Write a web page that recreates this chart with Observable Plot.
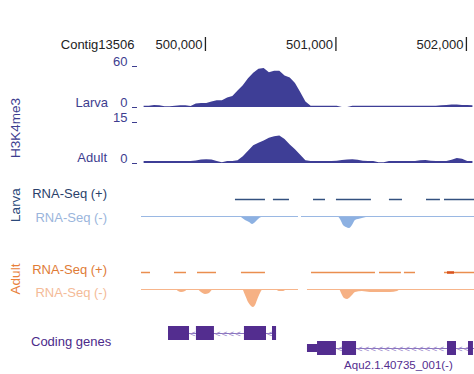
<!DOCTYPE html>
<html><head><meta charset="utf-8">
<script src="https://cdn.jsdelivr.net/npm/d3@7"></script>
<script src="https://cdn.jsdelivr.net/npm/@observablehq/plot@0.6"></script>
<style>
body{margin:0;background:#fff;}
#chart{position:relative;width:474px;height:374px;font-family:"Liberation Sans",Arial,Helvetica,sans-serif;overflow:hidden;background:#fff;}
.lab{position:absolute;font-size:13px;white-space:nowrap;line-height:1;}
</style></head><body><div id="chart"></div><script>
// ---------------- data ----------------
const X_DOMAIN = [499510, 502062];
const contigName = "Contig13506";
const axisTicks = [500000, 501000, 502000];

// H3K4me3 coverage, 40 bp bins starting at binStart
const binStart = 499510, binWidth = 40;
const larvaH3K4me3 = [2,2,3,2.5,1,1,2,2.5,2.5,1.5,
  5,6,6,8,10,10,14,16,24,32,42,50,56,57,51,53,53,46,43,35,22,8,2,
  2,2,2,2,2,null,null,
  2,2,2,2,2,2,2,2,2,2,2,2,2,2,2,2,2,
  2.5,3,3.5,3.5,3,3,2.5];
const adultH3K4me3 = [0.7,0.7,0.7,0.7,0.7,0.7,0.7,0.7,0.7,0.7,
  0.9,1.3,1.4,1.3,0.7,0.3,0.7,0.7,1,2.5,4.5,6.5,7.4,8.2,9.2,9.8,10.1,8.8,6.8,5,3,1,0.7,
  0.7,0.7,0.7,0.7,
  0.8,1.1,1.3,1.4,1.2,0.8,0.7,0.7,0.3,0.3,
  0.7,0.7,0.7,0.7,0.7,0.7,
  1,1.1,0.8,0.7,0.7,0.7,1.2,1.8,1.6,0.7,0.7];
const larvaH3Ticks = [0, 60];
const adultH3Ticks = [0, 15];

// RNA-Seq (+) covered segments
const larvaPlusStart = [500230, 500521, 500828, 501004, 501410, 501694, 501832];
const larvaPlusEnd   = [500460, 500644, 500920, 501272, 501510, 501801, 502062];
const adultPlusStart = [499510, 499763, 499939, 500276, 500813, 501334, 501525, 501832];
const adultPlusEnd   = [499579, 499855, 500085, 500460, 501303, 501502, 501610, 502062];
const adultPlusPeakStart = [501855];
const adultPlusPeakEnd   = [501909];

// RNA-Seq (-) coverage (position, depth)
const larvaMinusPos = [499510,499962,499985,500008,500246,500276,500307,500338,500361,500384,500407,500430,500453,
  501012,501035,501058,501081,501104,501127,501150,501173,501203,501234,501257,501341,501364,501418,501441,502062];
const larvaMinusDepth = [0,0,1,0,0,1,4,6,8,6,3,1,0,
  0,3,9,11,12,9,4,3,2,1,0,0,1,1,0,0];
const adultMinusPos = [499510,499771,499794,499817,499847,499870,499939,499970,500000,500031,500062,
  500284,500307,500330,500353,500368,500384,500399,500422,500445,
  500537,500567,500598,500629,
  501027,501043,501066,501089,501112,501127,501150,501203,501265,501341,501418,501472,501502,502062];
const adultMinusDepth = [0,0,2,3,2,0,0,3,5,4,0,
  0,6,13,17,18,16,11,4,0,
  0,2,2,0,
  0,4,9,10,8,6,3,2,3,3,3,2,0,0];
const larvaMinusBaseStart = [499510, 500736];
const larvaMinusBaseEnd   = [500713, 502062];
const adultMinusBaseStart = [499510, 500782];
const adultMinusBaseEnd   = [500713, 502062];

// Coding genes
const geneRows   = ["g1", "g2"];
const geneStart  = [499717, 500782];
const geneEnd    = [500545, 502062];
const exonRow    = ["g1","g1","g1","g1","g2","g2","g2","g2","g2"];
const exonStart  = [499717,499931,500299,500514,500782,500859,501050,501855,502016];
const exonEnd    = [499878,500069,500468,500545,500859,501004,501158,501924,502054];
const exonKind   = ["cds","cds","cds","cds","utr","cds","cds","cds","cds"];
const geneLabel  = {name: "Aqu2.1.40735_001(-)", x: 501479, row: "g2"};

// ---------------- colors ----------------
const FONT = '"Liberation Sans", Arial, Helvetica, sans-serif';
const H3 = "#3e3e96", H3TXT = "#3d3d8f";
const LARVA_DARK = "#2a3f6b", LARVA_LINE = "#33507f";
const LARVA_LIGHT_TXT = "#9ab5dc", LARVA_FILL = "#8db1e2", LARVA_BASE = "#9ab8e3";
const ADULT_ORANGE = "#e8803a", ADULT_LINE = "#ea8e4f", ADULT_PEAK = "#d9531e";
const ADULT_LIGHT_TXT = "#f4bb98", ADULT_FILL = "#f6b184", ADULT_BASE = "#f7b58b";
const GENE = "#532d8f", INTRON = "#8a74bd", CHEV = "#9d8bcc";

// ---------------- helpers ----------------
const chart = document.getElementById("chart");
const W = 474, ML = 141;
function place(svg, top) {
  svg.style.position = "absolute"; svg.style.top = top + "px"; svg.style.left = "0px";
  chart.append(svg);
}
function base(o) {
  return Plot.plot({width: W, marginLeft: ML, marginRight: 0,
    x: {domain: X_DOMAIN, axis: null},
    style: {background: "transparent", overflow: "visible", fontFamily: FONT}, ...o});
}
function lab(text, {right, left, cy, color, size = 13, rotate = false}) {
  const d = document.createElement("div");
  d.className = "lab"; d.textContent = text; d.style.color = color; d.style.fontSize = size + "px";
  d.style.top = cy + "px";
  if (rotate) { d.style.left = left + "px"; d.style.transform = "translate(-50%,-50%) rotate(-90deg)"; }
  else if (right != null) { d.style.right = (W - right) + "px"; d.style.transform = "translateY(-50%)"; }
  else { d.style.left = left + "px"; d.style.transform = "translateY(-50%)"; }
  chart.append(d);
}
const bins = arr => arr.map((v, i) => ({x: binStart + (i + 0.5) * binWidth, v}));
const segs = (s, e) => s.map((v, i) => ({x1: v, x2: e[i]}));
const pts = (p, d) => p.map((v, i) => ({x: v, depth: d[i]}));

// ---------------- header axis ----------------
place(base({height: 56, marginTop: 37, marginBottom: 5, y: {axis: null},
  marks: [
    Plot.ruleX(axisTicks, {x: d => d, stroke: "#222", strokeWidth: 1.3}),
    Plot.text(axisTicks, {x: d => d, text: d => d3.format(",")(d), textAnchor: "end", dx: -3, frameAnchor: "middle", fontSize: 13, fill: "#222"}),
    Plot.text([contigName], {text: d => d, frameAnchor: "left", textAnchor: "end", dx: -7, fontSize: 13, fill: "#222"})
  ]}), 0);

// ---------------- H3K4me3 tracks ----------------
function h3Track(values, ticks, top) {
  place(base({height: 56, marginTop: 10, marginBottom: 5, y: {domain: [ticks[0], ticks[1]], axis: null},
    marks: [
      Plot.areaY(bins(values), {x: "x", y: "v", fill: H3, curve: "linear"}),
      Plot.axisY(ticks, {label: null, tickSize: 5, dx: -4, tickFormat: () => "", stroke: H3TXT}),
      Plot.axisY(ticks, {label: null, tickSize: 0, dx: -4, tickPadding: 10, dy: -5, fill: H3TXT, fontSize: 13})
    ]}), top);
}
h3Track(larvaH3K4me3, larvaH3Ticks, 56);
h3Track(adultH3K4me3, adultH3Ticks, 112);

// ---------------- RNA-Seq tracks ----------------
function plusTrack(s, e, color, top, peaks) {
  const marks = [Plot.ruleY(segs(s, e), {y: () => 0, x1: "x1", x2: "x2", stroke: color, strokeWidth: 1.5})];
  if (peaks) marks.push(Plot.ruleY(segs(peaks[0], peaks[1]), {y: () => 0, x1: "x1", x2: "x2", stroke: ADULT_PEAK, strokeWidth: 2.5}));
  place(base({height: 12, marginTop: 0, marginBottom: 0, y: {domain: [-1, 1], axis: null}, marks}), top);
}
function minusTrack(p, d, bs, be, maxDepth, fill, baseColor, top) {
  place(base({height: maxDepth + 12, marginTop: 6, marginBottom: 6, y: {domain: [-maxDepth, 0], axis: null},
    marks: [
      Plot.areaY(pts(p, d), {x: "x", y1: () => 0, y2: r => -r.depth, fill, curve: "monotone-x"}),
      Plot.ruleY(segs(bs, be), {y: () => 0, x1: "x1", x2: "x2", stroke: baseColor, strokeWidth: 1.2})
    ]}), top);
}
plusTrack(larvaPlusStart, larvaPlusEnd, LARVA_LINE, 193);
minusTrack(larvaMinusPos, larvaMinusDepth, larvaMinusBaseStart, larvaMinusBaseEnd, 12, LARVA_FILL, LARVA_BASE, 210);
plusTrack(adultPlusStart, adultPlusEnd, ADULT_LINE, 266, [adultPlusPeakStart, adultPlusPeakEnd]);
minusTrack(adultMinusPos, adultMinusDepth, adultMinusBaseStart, adultMinusBaseEnd, 18, ADULT_FILL, ADULT_BASE, 283);

// ---------------- genes ----------------
const genes = geneRows.map((r, i) => ({row: r, x1: geneStart[i], x2: geneEnd[i]}));
const exons = exonRow.map((r, i) => ({row: r, x1: exonStart[i], x2: exonEnd[i], kind: exonKind[i]}));
const chevrons = [];
for (const g of geneRows) {
  const ex = exons.filter(e => e.row === g).sort((a, b) => a.x1 - b.x1);
  for (let i = 0; i + 1 < ex.length; i++) {
    for (const x of d3.range(ex[i].x2 + 25, ex[i + 1].x1 - 10, 52)) chevrons.push({row: g, x});
  }
}
place(base({height: 56, marginTop: 6, marginBottom: 17,
  y: {type: "band", domain: geneRows, padding: 0.08, axis: null},
  marks: [
    Plot.ruleY(genes, {y: "row", x1: "x1", x2: "x2", stroke: INTRON, strokeWidth: 1}),
    Plot.text(chevrons, {x: "x", y: "row", text: () => "<", fontSize: 9.5, fill: CHEV}),
    Plot.rect(exons.filter(e => e.kind === "cds"), {x1: "x1", x2: "x2", y: "row", fill: GENE}),
    Plot.rect(exons.filter(e => e.kind === "utr"), {x1: "x1", x2: "x2", y: "row", fill: GENE, insetTop: 3, insetBottom: 3}),
    Plot.text([geneLabel], {x: "x", y: "row", text: "name", dy: 17, fontSize: 11.5, fill: GENE})
  ]}), 318);

// ---------------- labels ----------------
lab("H3K4me3", {left: 16, cy: 128, color: H3TXT, size: 13.5, rotate: true});
lab("Larva", {right: 108, cy: 102, color: H3TXT});
lab("Adult", {right: 107, cy: 157, color: H3TXT});
lab("Larva", {left: 16, cy: 205, color: "#2b4a7a", size: 13.5, rotate: true});
lab("RNA-Seq (+)", {right: 107, cy: 193, color: LARVA_DARK});
lab("RNA-Seq (-)", {right: 107, cy: 217, color: LARVA_LIGHT_TXT});
lab("Adult", {left: 16, cy: 279, color: ADULT_ORANGE, size: 13.5, rotate: true});
lab("RNA-Seq (+)", {right: 107, cy: 269, color: "#e07b36"});
lab("RNA-Seq (-)", {right: 107, cy: 292, color: ADULT_LIGHT_TXT});
lab("Coding genes", {left: 31, cy: 341, color: "#4b2a8a"});
</script></body></html>
